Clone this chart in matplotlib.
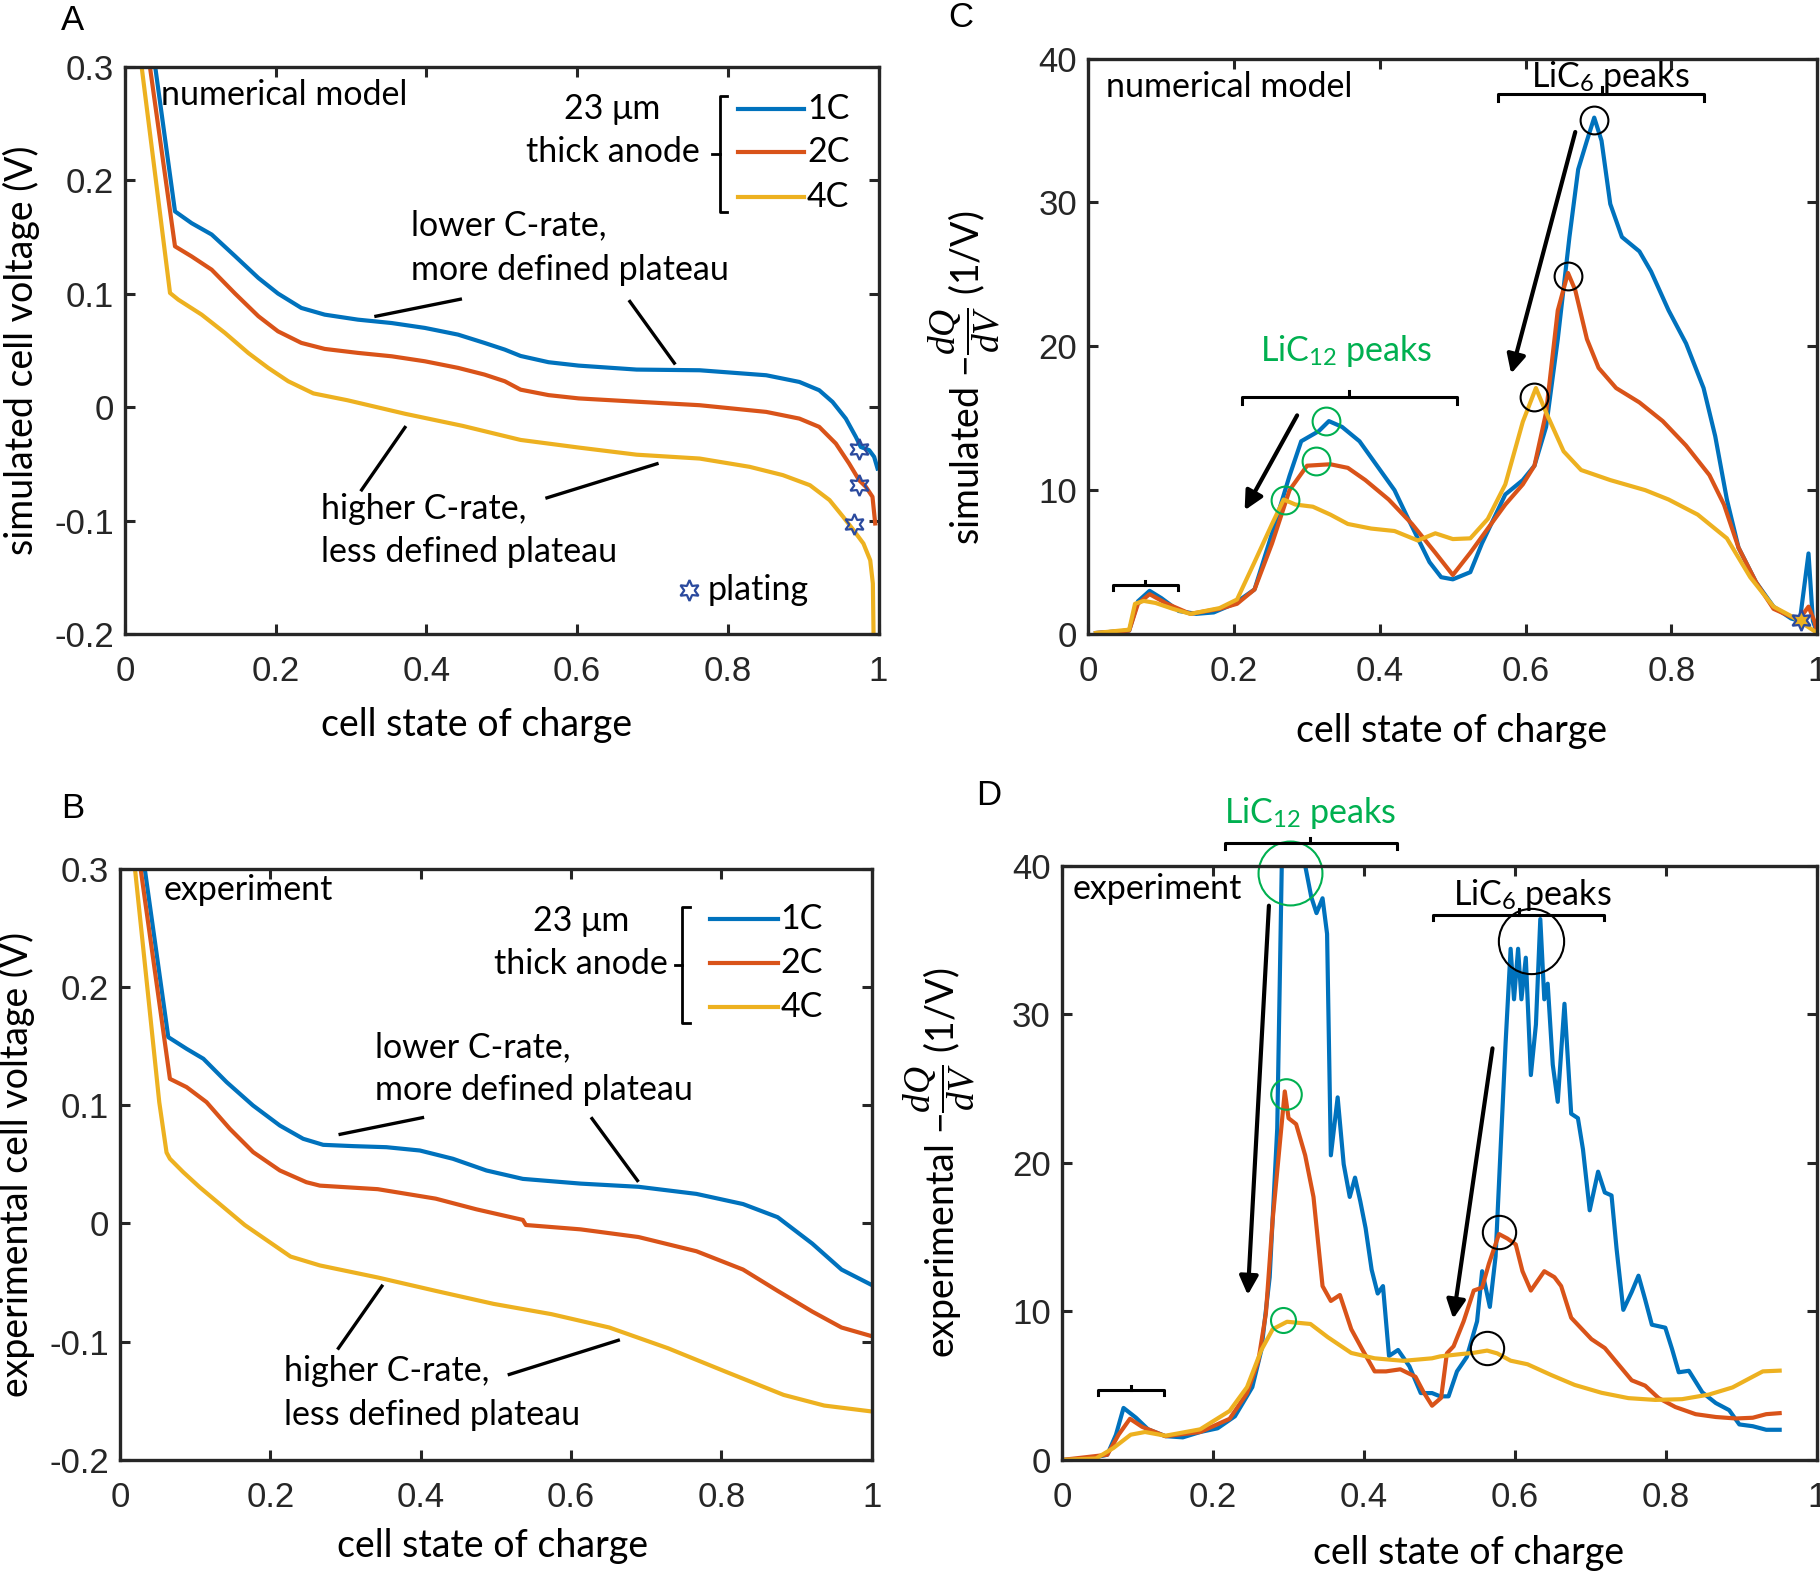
import matplotlib
matplotlib.use('Agg')
import matplotlib.pyplot as plt

plt.rcParams['font.family'] = ['Lato', 'DejaVu Sans']
plt.rcParams['axes.unicode_minus'] = False
plt.rcParams['mathtext.fontset'] = 'custom'
plt.rcParams['mathtext.rm'] = 'Lato'
plt.rcParams['mathtext.sf'] = 'Lato'
plt.rcParams['mathtext.it'] = 'Liberation Serif:italic'

BLUE = '#0072BD'
RED = '#D95319'
YEL = '#EDB120'
GREEN = '#00B050'
STAR = '#2B4A9E'
DARK = '#262626'

rates = ['1C', '2C', '4C']
colors = [BLUE, RED, YEL]

# ---- panel A: simulated voltage vs SOC
a_soc_1c = [0.04, 0.0663, 0.0884, 0.115, 0.146, 0.177, 0.203, 0.234, 0.265, 0.309, 0.354, 0.398, 0.442,
            0.477, 0.504, 0.525, 0.562, 0.602, 0.679, 0.7626, 0.851, 0.895, 0.9213, 0.939, 0.9566, 0.9699,
            0.9765, 0.9876, 0.9942, 0.9987]
a_v_1c = [0.3, 0.1724, 0.162, 0.152, 0.133, 0.1137, 0.100, 0.0873, 0.0814, 0.077, 0.074, 0.0697, 0.0638,
          0.0565, 0.0506, 0.045, 0.0395, 0.0365, 0.033, 0.0324, 0.028, 0.0221, 0.0148, 0.0045, -0.0102, -0.0263,
          -0.0352, -0.038, -0.0439, -0.0542]
a_soc_2c = [0.033, 0.0663, 0.0884, 0.115, 0.146, 0.177, 0.203, 0.234, 0.265, 0.309, 0.354, 0.398, 0.442,
            0.477, 0.504, 0.525, 0.562, 0.602, 0.679, 0.7626, 0.851, 0.895, 0.9213, 0.9434, 0.961, 0.9743,
            0.9832, 0.992, 0.9956]
a_v_2c = [0.3, 0.1416, 0.1327, 0.121, 0.100, 0.080, 0.0667, 0.0565, 0.0512, 0.0477, 0.0447, 0.0403, 0.0345,
          0.0286, 0.0227, 0.0153, 0.0105, 0.0076, 0.0047, 0.0016, -0.0043, -0.0102, -0.0175, -0.0322, -0.0498,
          -0.0645, -0.0703, -0.0791, -0.1026]
a_soc_4c = [0.022, 0.0597, 0.0707, 0.1017, 0.1326, 0.1636, 0.190, 0.2166, 0.25, 0.295, 0.372, 0.448, 0.525,
            0.602, 0.679, 0.7626, 0.829, 0.873, 0.909, 0.935, 0.953, 0.9668, 0.98, 0.989, 0.9925, 0.9934]
a_v_4c = [0.3, 0.1005, 0.0946, 0.0814, 0.0653, 0.0476, 0.0345, 0.0227, 0.012, 0.006, -0.006, -0.0166, -0.029,
          -0.0357, -0.042, -0.0454, -0.0527, -0.06, -0.0689, -0.082, -0.0967, -0.1085, -0.1203, -0.135,
          -0.1555, -0.2]
a_plating_soc = [0.974, 0.974, 0.9677]
a_plating_v = [-0.0366, -0.069, -0.1035]

# ---- panel B: experimental voltage vs SOC
b_soc_1c = [0.033, 0.0643, 0.0887, 0.111, 0.142, 0.177, 0.2128, 0.2438, 0.2704, 0.3103, 0.3546, 0.399, 0.443,
            0.4876, 0.536, 0.613, 0.69, 0.767, 0.829, 0.875, 0.921, 0.96, 1.0]
b_v_1c = [0.3, 0.1576, 0.1477, 0.1393, 0.1195, 0.0998, 0.0828, 0.0716, 0.0665, 0.0654, 0.0645, 0.0617, 0.0547,
          0.0448, 0.0377, 0.0337, 0.031, 0.025, 0.0164, 0.0053, -0.017, -0.039, -0.052]
b_soc_2c = [0.0275, 0.0665, 0.0887, 0.1152, 0.1463, 0.1773, 0.2128, 0.248, 0.266, 0.343, 0.42, 0.474, 0.536,
            0.54, 0.613, 0.69, 0.767, 0.829, 0.875, 0.921, 0.96, 1.0]
b_v_2c = [0.3, 0.1223, 0.1153, 0.1026, 0.080, 0.0603, 0.0448, 0.0349, 0.032, 0.029, 0.021, 0.012, 0.003,
          -0.0013, -0.005, -0.0115, -0.0235, -0.039, -0.057, -0.0745, -0.088, -0.0953]
b_soc_4c = [0.02, 0.0523, 0.062, 0.0665, 0.0842, 0.106, 0.166, 0.227, 0.266, 0.343, 0.42, 0.497, 0.574, 0.651,
            0.729, 0.806, 0.883, 0.937, 1.0]
b_v_4c = [0.3, 0.1026, 0.060, 0.0547, 0.0434, 0.0307, -0.0013, -0.028, -0.0355, -0.0457, -0.057, -0.068,
          -0.0767, -0.088, -0.1055, -0.1254, -0.145, -0.154, -0.159]

# ---- panel C: simulated -dQ/dV
c_soc_1c = [0.0104, 0.056, 0.068, 0.084, 0.1, 0.124, 0.148, 0.172, 0.2, 0.228, 0.252, 0.276, 0.292, 0.316,
            0.33, 0.348, 0.372, 0.396, 0.42, 0.436, 0.452, 0.468, 0.484, 0.5, 0.524, 0.54, 0.556, 0.572,
            0.596, 0.612, 0.628, 0.644, 0.66, 0.672, 0.684, 0.694, 0.704, 0.716, 0.732, 0.756, 0.772, 0.796,
            0.82, 0.844, 0.86, 0.876, 0.892, 0.916, 0.94, 0.964, 0.976, 0.988, 0.994, 1.0]
c_dq_1c = [0.07, 0.24, 2.27, 3.0, 2.5, 1.6, 1.4, 1.5, 2.1, 3.1, 7.0, 11.0, 13.4, 14.1,
           14.8, 14.4, 13.4, 11.7, 10.0, 8.3, 6.65, 5.0, 3.95, 3.8, 4.3, 6.3, 8.0, 9.7,
           10.7, 11.7, 14.4, 20.5, 27.6, 32.3, 34.3, 35.9, 34.3, 29.9, 27.6, 26.6, 25.2, 22.5,
           20.2, 17.1, 13.75, 9.35, 6.0, 3.6, 1.9, 1.08, 0.9, 5.6, 0.9, 0.07]
c_soc_2c = [0.0104, 0.056, 0.068, 0.084, 0.108, 0.14, 0.18, 0.204, 0.228, 0.252, 0.276, 0.3, 0.332, 0.356,
            0.38, 0.412, 0.444, 0.476, 0.5, 0.524, 0.548, 0.572, 0.596, 0.612, 0.628, 0.644, 0.658, 0.668,
            0.684, 0.7, 0.724, 0.756, 0.788, 0.82, 0.852, 0.872, 0.892, 0.916, 0.94, 0.964, 0.976, 0.988,
            0.996, 1.0]
c_dq_2c = [0.07, 0.24, 2.1, 2.77, 2.1, 1.4, 1.75, 2.1, 3.1, 6.3, 10.0, 11.7, 11.8, 11.55,
           10.7, 9.35, 7.65, 5.65, 4.1, 5.65, 7.33, 9.0, 10.4, 11.7, 15.4, 22.5, 25.1, 23.9,
           20.5, 18.5, 17.1, 16.1, 14.8, 13.1, 11.05, 9.0, 6.0, 3.6, 1.75, 1.2, 1.08, 1.9,
           0.9, 0.07]
c_soc_4c = [0.0104, 0.056, 0.064, 0.076, 0.092, 0.116, 0.14, 0.18, 0.204, 0.228, 0.252, 0.268, 0.284, 0.308,
            0.332, 0.356, 0.388, 0.42, 0.452, 0.476, 0.5, 0.524, 0.548, 0.572, 0.596, 0.614, 0.628, 0.652,
            0.676, 0.716, 0.764, 0.796, 0.836, 0.876, 0.908, 0.94, 0.964, 0.98, 1.0]
c_dq_4c = [0.07, 0.3, 2.1, 2.3, 2.16, 1.75, 1.4, 1.8, 2.4, 5.0, 7.65, 9.35, 9.0, 8.85,
           8.3, 7.65, 7.33, 7.16, 6.5, 7.0, 6.6, 6.65, 8.0, 10.4, 14.75, 17.1, 15.4, 12.7,
           11.4, 10.7, 10.0, 9.35, 8.3, 6.65, 3.95, 1.9, 1.25, 0.74, 0.07]
c_lic12_soc = [0.3264, 0.312, 0.27]
c_lic12_dq = [14.8, 12.0, 9.35]
c_lic6_soc = [0.694, 0.658, 0.612]
c_lic6_dq = [35.7, 24.9, 16.45]

# ---- panel D: experimental -dQ/dV
d_soc_1c = [0.0, 0.037, 0.06, 0.0715, 0.0815, 0.098, 0.114, 0.137, 0.16, 0.183, 0.206, 0.229, 0.252, 0.264,
            0.275, 0.285, 0.291, 0.3, 0.31, 0.322, 0.33, 0.337, 0.345, 0.351, 0.356, 0.365, 0.373, 0.381,
            0.388, 0.395, 0.402, 0.41, 0.418, 0.425, 0.433, 0.445, 0.46, 0.475, 0.49,
            0.5007, 0.5118, 0.523, 0.536, 0.5496, 0.5563, 0.5665, 0.5741, 0.5807, 0.5874, 0.594, 0.5985,
            0.6039, 0.6083, 0.6141, 0.6208, 0.6275, 0.6333, 0.6386, 0.6431, 0.6498, 0.6564, 0.6653, 0.6742,
            0.6831, 0.6898, 0.6987, 0.7098, 0.7187, 0.7276, 0.7343, 0.7432, 0.7543, 0.7633, 0.7721, 0.781,
            0.7988, 0.8078, 0.8166, 0.83, 0.8478, 0.8656, 0.8834, 0.8968, 0.9146, 0.9324, 0.9502]
d_dq_1c = [0.0, 0.1, 0.35, 1.7, 3.5, 2.84, 2.06, 1.6, 1.52, 1.88, 2.13, 2.94, 4.9, 7.4,
           12.3, 22.3, 40.0, 46.0, 46.0, 40.0, 37.9, 36.8, 37.8, 35.4, 20.5, 24.4, 19.9, 17.7,
           19.0, 17.4, 15.6, 12.8, 11.2, 11.7, 7.0, 7.4, 6.3, 4.5, 4.5,
           4.28, 4.28, 5.96, 6.93, 9.33, 12.7, 10.3, 13.7, 20.9, 28.1, 34.4, 31.0,
           34.4, 31.0, 33.8, 25.9, 29.3, 36.4, 31.0, 32.05, 26.6, 24.1, 30.7, 23.3,
           23.0, 20.9, 16.8, 19.4, 18.0, 17.8, 14.2, 10.1, 11.3, 12.4, 10.8, 9.1,
           8.9, 7.45, 5.9, 6.0, 4.55, 3.83, 3.35, 2.39, 2.27, 2.03, 2.03]
d_soc_2c = [0.0, 0.06, 0.075, 0.09, 0.106, 0.137, 0.183, 0.222, 0.245, 0.26, 0.27, 0.279, 0.289, 0.295,
            0.3, 0.31, 0.322, 0.333, 0.345, 0.356, 0.368, 0.383, 0.398, 0.414, 0.429, 0.448, 0.468, 0.479,
            0.49, 0.502, 0.5096, 0.5185, 0.5318, 0.5452, 0.5563, 0.5652, 0.5786, 0.5897, 0.6008, 0.6097,
            0.6208, 0.6386, 0.652, 0.6609, 0.6742, 0.6876, 0.701, 0.7187, 0.7365, 0.7543, 0.7721, 0.79,
            0.8122, 0.8389, 0.8656, 0.8923, 0.9146, 0.9324, 0.9502]
d_dq_2c = [0.0, 0.35, 1.7, 2.77, 2.23, 1.6, 1.88, 2.77, 4.5, 6.67, 9.86, 16.2, 21.6, 24.8,
           23.0, 22.6, 20.5, 17.7, 11.7, 10.7, 11.1, 8.8, 7.4, 5.96, 5.96, 6.1, 5.6, 4.54,
           3.65, 4.18, 7.17, 7.65, 9.33, 11.4, 11.6, 13.2, 15.2, 14.9, 14.5, 12.7,
           11.4, 12.7, 12.3, 11.7, 9.57, 8.85, 8.13, 7.53, 6.44, 5.36, 5.0, 4.16,
           3.56, 3.08, 2.89, 2.79, 2.84, 3.08, 3.15]
d_soc_4c = [0.0, 0.045, 0.068, 0.091, 0.11, 0.137, 0.183, 0.222, 0.245, 0.264, 0.279, 0.298, 0.329, 0.352,
            0.383, 0.414, 0.452, 0.49, 0.5007, 0.5274, 0.5452, 0.5629, 0.5763, 0.594, 0.6163, 0.6475, 0.6787,
            0.7143, 0.7499, 0.7855, 0.821, 0.8566, 0.8878, 0.91, 0.9279, 0.9502]
d_dq_4c = [0.0, 0.1, 0.8, 1.7, 1.88, 1.63, 2.06, 3.3, 4.9, 7.4, 8.8, 9.3, 9.15, 8.26,
           7.2, 6.84, 6.67, 6.84, 6.97, 7.12, 7.21, 7.36, 7.17, 6.68, 6.44, 5.72, 5.05,
           4.52, 4.16, 4.04, 4.09, 4.4, 4.88, 5.48, 5.96, 6.01]
d_lic12_soc = [0.302, 0.296, 0.292]
d_lic12_dq = [39.5, 24.6, 9.4]
d_lic12_size = [46, 22, 18]
d_lic6_soc = [0.6216, 0.5786, 0.5629]
d_lic6_dq = [34.9, 15.35, 7.54]
d_lic6_size = [47, 24, 24]

TICK_FONT = ['Liberation Sans', 'DejaVu Sans']
TICK_FS = 25
LABEL_FS = 27
TEXT_FS = 24.5


def style_axes(ax, ylim, yticks, yticklabels, xlabel, ylabel, xlab_pos, ylab_pos):
    ax.set_xlim(0, 1)
    ax.set_ylim(*ylim)
    ax.set_xticks([0, 0.2, 0.4, 0.6, 0.8, 1])
    ax.set_xticklabels(['0', '0.2', '0.4', '0.6', '0.8', '1'], family=TICK_FONT, fontsize=TICK_FS, color=DARK)
    ax.set_yticks(yticks)
    ax.set_yticklabels(yticklabels, family=TICK_FONT, fontsize=TICK_FS, color=DARK)
    ax.tick_params(direction='in', top=True, right=True, length=7, width=2.2, color=DARK)
    ax.tick_params(axis='x', pad=15)
    ax.tick_params(axis='y', pad=8)
    for sp in ax.spines.values():
        sp.set_linewidth(2.4)
        sp.set_color(DARK)
    ax.set_xlabel(xlabel, fontsize=LABEL_FS, va='center', ha='center')
    ax.xaxis.set_label_coords(xlab_pos[0], xlab_pos[1])
    ax.set_ylabel(ylabel, fontsize=LABEL_FS, va='center', ha='center')
    ax.yaxis.set_label_coords(ylab_pos[0], ylab_pos[1])


def rate_legend(ax, x0, x1, ys, bx, btop, bbot, tx, ty):
    for y, c, r in zip(ys, colors, rates):
        ax.plot([x0, x1], [y, y], color=c, lw=3, transform=ax.transAxes)
        ax.text(x1 + 0.004, y, r, fontsize=TEXT_FS, va='center', ha='left', transform=ax.transAxes)
    ax.plot([bx + 0.01, bx, bx, bx + 0.01], [btop, btop, bbot, bbot], color='k', lw=2,
            transform=ax.transAxes)
    mid = (btop + bbot) / 2
    ax.plot([bx - 0.01, bx], [mid, mid], color='k', lw=2, transform=ax.transAxes)
    ax.text(tx, ty[0], '23 μm', fontsize=TEXT_FS, ha='center', va='center', transform=ax.transAxes)
    ax.text(tx, ty[1], 'thick anode', fontsize=TEXT_FS, ha='center', va='center', transform=ax.transAxes)


def bracket(ax, x0, x1, y, drop, mid_x, rise, lw=2.2):
    ax.plot([x0, x0, x1, x1], [y - drop, y, y, y - drop], color='k', lw=lw, clip_on=False)
    ax.plot([mid_x, mid_x], [y, y + rise], color='k', lw=lw, clip_on=False)


def arrow(ax, start, end):
    ax.annotate('', xy=end, xytext=start,
                arrowprops=dict(arrowstyle='-|>', color='k', lw=3, mutation_scale=28, shrinkA=0, shrinkB=0))


fig = plt.figure(figsize=(18.2, 15.85), dpi=100)
axA = fig.add_axes([0.0687, 0.600, 0.414, 0.358])
axC = fig.add_axes([0.598, 0.600, 0.4005, 0.363])
axB = fig.add_axes([0.0659, 0.0789, 0.413, 0.373])
axD = fig.add_axes([0.5835, 0.0789, 0.415, 0.375])

vticks = [-0.2, -0.1, 0, 0.1, 0.2, 0.3]
vlabels = ['-0.2', '-0.1', '0', '0.1', '0.2', '0.3']
qticks = [0, 10, 20, 30, 40]
qlabels = ['0', '10', '20', '30', '40']
hexagram = (6, 1, 0)

# ---------- A
for xs, ys, c in zip([a_soc_1c, a_soc_2c, a_soc_4c], [a_v_1c, a_v_2c, a_v_4c], colors):
    axA.plot(xs, ys, color=c, lw=3)
axA.plot(a_plating_soc, a_plating_v, linestyle='none', marker=hexagram, ms=15, mfc='none', mec=STAR, mew=1.6)
style_axes(axA, (-0.2, 0.3), vticks, vlabels, 'cell state of charge', 'simulated cell voltage (V)',
           (0.467, -0.16), (-0.138, 0.5))
axA.text(0.048, 0.275, 'numerical model', fontsize=TEXT_FS, va='center')
rate_legend(axA, 0.8136, 0.901, [0.926, 0.849, 0.771], 0.789, 0.949, 0.744, 0.647, [0.926, 0.849])
axA.text(0.379, 0.16, 'lower C-rate,', fontsize=TEXT_FS, va='center')
axA.text(0.379, 0.121, 'more defined plateau', fontsize=TEXT_FS, va='center')
axA.plot([0.445, 0.333], [0.095, 0.080], color='k', lw=2.4)
axA.plot([0.67, 0.729], [0.093, 0.0387], color='k', lw=2.4)
axA.text(0.26, -0.09, 'higher C-rate,', fontsize=TEXT_FS, va='center')
axA.text(0.26, -0.128, 'less defined plateau', fontsize=TEXT_FS, va='center')
axA.plot([0.3715, 0.314], [-0.018, -0.073], color='k', lw=2.4)
axA.plot([0.706, 0.56], [-0.05, -0.080], color='k', lw=2.4)
axA.plot([0.748], [-0.161], linestyle='none', marker=hexagram, ms=15, mfc='none', mec=STAR, mew=1.6)
axA.text(0.773, -0.161, 'plating', fontsize=TEXT_FS, va='center')

# ---------- B
for xs, ys, c in zip([b_soc_1c, b_soc_2c, b_soc_4c], [b_v_1c, b_v_2c, b_v_4c], colors):
    axB.plot(xs, ys, color=c, lw=3)
style_axes(axB, (-0.2, 0.3), vticks, vlabels, 'cell state of charge', 'experimental cell voltage (V)',
           (0.496, -0.146), (-0.138, 0.5))
axB.text(0.058, 0.282, 'experiment', fontsize=TEXT_FS, va='center')
rate_legend(axB, 0.785, 0.875, [0.9155, 0.841, 0.766], 0.748, 0.935, 0.739, 0.613, [0.9116, 0.839])
axB.text(0.339, 0.149, 'lower C-rate,', fontsize=TEXT_FS, va='center')
axB.text(0.339, 0.113, 'more defined plateau', fontsize=TEXT_FS, va='center')
axB.plot([0.4025, 0.293], [0.0895, 0.0754], color='k', lw=2.4)
axB.plot([0.628, 0.6885], [0.0887, 0.0363], color='k', lw=2.4)
axB.text(0.218, -0.1246, 'higher C-rate,', fontsize=TEXT_FS, va='center')
axB.text(0.218, -0.162, 'less defined plateau', fontsize=TEXT_FS, va='center')
axB.plot([0.3485, 0.2907], [-0.053, -0.1055], color='k', lw=2.4)
axB.plot([0.663, 0.518], [-0.0988, -0.1277], color='k', lw=2.4)

# ---------- C
for xs, ys, c in zip([c_soc_1c, c_soc_2c, c_soc_4c], [c_dq_1c, c_dq_2c, c_dq_4c], colors):
    axC.plot(xs, ys, color=c, lw=3)
axC.plot([0.978], [1.0], linestyle='none', marker=hexagram, ms=15, mfc=YEL, mec=STAR, mew=1.6)
style_axes(axC, (0, 40), qticks, qlabels, 'cell state of charge', r'simulated $-\dfrac{dQ}{dV}$ (1/V)',
           (0.498, -0.168), (-0.171, 0.445))
axC.text(0.024, 38.0, 'numerical model', fontsize=TEXT_FS, va='center')
axC.plot(c_lic12_soc, c_lic12_dq, 'o', ms=20, mfc='none', mec=GREEN, mew=1.5)
axC.plot(c_lic6_soc, c_lic6_dq, 'o', ms=20, mfc='none', mec='k', mew=1.5)
arrow(axC, (0.2864, 15.2), (0.2144, 8.6))
arrow(axC, (0.668, 34.9), (0.58, 18.1))
bracket(axC, 0.2104, 0.5056, 16.5, 0.5, 0.358, 0.4)
axC.text(0.354, 19.65, r'LiC$_{12}$ peaks', fontsize=TEXT_FS, color=GREEN, ha='center', va='center')
bracket(axC, 0.5616, 0.844, 37.55, 0.5, 0.704, 0.45)
axC.text(0.716, 38.7, r'LiC$_{6}$ peaks', fontsize=TEXT_FS, ha='center', va='center')
bracket(axC, 0.0336, 0.123, 3.38, 0.34, 0.078, 0.3)

# ---------- D
for xs, ys, c in zip([d_soc_1c, d_soc_2c, d_soc_4c], [d_dq_1c, d_dq_2c, d_dq_4c], colors):
    axD.plot(xs, ys, color=c, lw=3)
style_axes(axD, (0, 40), qticks, qlabels, 'cell state of charge', r'experimental $-\dfrac{dQ}{dV}$ (1/V)',
           (0.538, -0.157), (-0.162, 0.5))
axD.text(0.014, 38.4, 'experiment', fontsize=TEXT_FS, va='center')
for x, y, s in zip(d_lic12_soc, d_lic12_dq, d_lic12_size):
    axD.plot([x], [y], 'o', ms=s, mfc='none', mec=GREEN, mew=1.5, clip_on=False)
for x, y, s in zip(d_lic6_soc, d_lic6_dq, d_lic6_size):
    axD.plot([x], [y], 'o', ms=s, mfc='none', mec='k', mew=1.5, clip_on=False)
arrow(axD, (0.274, 37.3), (0.246, 11.1))
arrow(axD, (0.57, 27.7), (0.518, 9.5))
bracket(axD, 0.216, 0.443, 41.5, 0.4, 0.329, 0.35)
axD.text(0.329, 43.55, r'LiC$_{12}$ peaks', fontsize=TEXT_FS, color=GREEN, ha='center', va='center')
bracket(axD, 0.491, 0.718, 36.7, 0.35, 0.605, 0.35)
axD.text(0.623, 38.05, r'LiC$_{6}$ peaks', fontsize=TEXT_FS, ha='center', va='center')
bracket(axD, 0.048, 0.135, 4.7, 0.3, 0.0915, 0.3)

# panel letters
for lab, x, y in [('A', 0.0396, 0.987), ('C', 0.528, 0.989), ('B', 0.040, 0.490), ('D', 0.5434, 0.498)]:
    fig.text(x, y, lab, fontsize=25, family=TICK_FONT, ha='center', va='center')

fig.savefig('out.png', dpi=100)
